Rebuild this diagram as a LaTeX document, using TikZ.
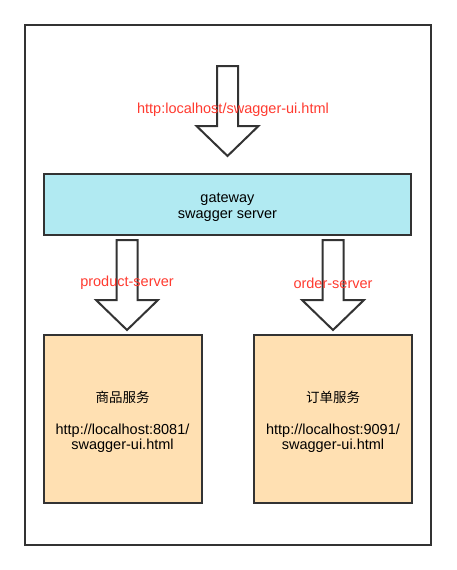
\documentclass[tikz,border=0pt]{standalone}
\usepackage{fontspec}
\setmainfont{Liberation Sans}
\newfontfamily\cjk{Noto Sans CJK SC}
\definecolor{edgec}{HTML}{333333}
\definecolor{gwfill}{HTML}{B1EAF2}
\definecolor{svfill}{HTML}{FFE0B2}
\definecolor{labred}{HTML}{FF3B30}
\newcommand\blockarrow[4]{% x center, y top, y neck, y tip
  \draw[barrow] (#1-10.5,#2) -- (#1+10.5,#2) -- (#1+10.5,#3) -- (#1+31,#3)
    -- (#1,#4) -- (#1-31,#3) -- (#1-10.5,#3) -- cycle;}
\begin{document}
\begin{tikzpicture}[x=1pt,y=-1pt,
  barrow/.style={draw=edgec,line width=2pt,line join=miter,fill=white},
  box/.style={draw=edgec,line width=2pt,inner sep=0pt,align=center,
    font=\fontsize{14.5}{15.5}\selectfont},
  lab/.style={text=labred,font=\fontsize{14.5}{16}\selectfont,inner sep=0pt}]
\useasboundingbox (0,0) rectangle (456,570);
\fill[white] (0,0) rectangle (456,570);
\node[draw=edgec,line width=2pt,minimum width=406,minimum height=520,inner sep=0pt] (outer) at (228,285) {};
\node[box,fill=gwfill,minimum width=367,minimum height=61] (gw) at (227.5,204)
  {\rule{0pt}{16pt}gateway\\swagger server};
\node[box,fill=svfill,minimum width=158,minimum height=168] (prod) at (122.5,418.5)
  {\rule{0pt}{18pt}{\cjk\fontsize{13.5}{16}\selectfont 商品服务}\\[16.5pt]http://localhost:8081/\\swagger-ui.html};
\node[box,fill=svfill,minimum width=158,minimum height=168] (order) at (333,418.5)
  {\rule{0pt}{18pt}{\cjk\fontsize{13.5}{16}\selectfont 订单服务}\\[16.5pt]http://localhost:9091/\\swagger-ui.html};
\blockarrow{227.5}{66}{126}{156}
\blockarrow{127}{240}{300}{330}
\blockarrow{333}{240}{300}{330}
\node[lab] (l0) at (233,110) {http:localhost/swagger-ui.html};
\node[lab] (l1) at (127,283) {product-server};
\node[lab] (l2) at (333,283) {order-server};
\end{tikzpicture}
\end{document}
